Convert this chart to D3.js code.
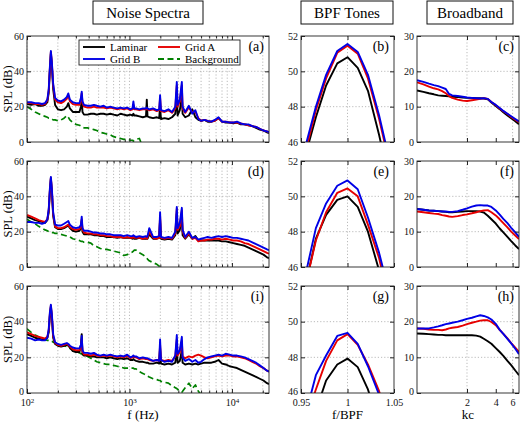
<!DOCTYPE html>
<html>
<head>
<meta charset="utf-8">
<script src="https://cdn.jsdelivr.net/npm/d3@7"></script>
<style>
body { margin: 0; background: #fff; }
svg { font-family: "Liberation Serif", "DejaVu Serif", serif; }
</style>
</head>
<body>
<svg id="chart" width="520" height="422"></svg>
<script>
// ---- spectra (Hz, dB) ----
var freq = [100,110,120,130,140,150,158,163,167,171,
  175,180,188,200,215,230,245,253,262,280,
  300,325,336,342,348,360,390,420,450,480,
  520,560,600,650,700,760,820,880,950,1020,
  1070,1092,1115,1160,1250,1350,1450,1476,1500,1560,
  1700,1850,1950,1990,2030,2200,2400,2600,2800,2897,
  2950,3100,3245,3300,3500,3800,4100,4400,4700,5000,
  5400,5800,6300,6800,7400,8000,8700,9500,10300,11200,
  12200,13300,14500,15800,17200,18700,20300,22000,23000];

var a_laminar = [21.5,21,21.5,20.5,20.5,21,22.5,28,40,50,
  43,30,21,18.5,18,18.5,20,22,19,17,
  17,17,20,24,17,15.5,15.5,16,16,15.5,
  16,16,15.5,16,15.5,15,16,15.5,15,15.5,
  15,16,15,15,14.5,14,14.5,24,14.5,14,
  13.5,14,13.5,20,13,13.5,13,14,16,28,
  15,18,26,16,14,15,18.5,14,12.5,12,
  12.5,11.5,11.5,12,13.5,11.5,11,11,10.5,11,
  10,10,9.5,9,8,7,6.5,5.5,5];
var a_gridA = [22,22,21.5,21.5,21,21.5,23.5,29,41,51,
  44,32,24,22.5,22,23,24.5,26.5,23,21.5,
  21,21,24,27.5,22,20,19.5,19.5,20,19.5,
  19.5,19.5,19,19.5,19,18.5,19,18.5,19,18,
  18.5,21,18.5,18.5,18,18.5,18.5,19,18.5,18,
  18.5,17.5,18,25,17.5,17,18,16.5,19,32,
  20,23,32,19,16.5,19.5,17,17,13.5,12,
  12.5,12,11.5,12,13.5,11.5,11.5,11,11,11,
  10.5,10,9.5,9,8.5,7.5,6.5,6,5.5];
var a_gridB = [22.5,22.5,22,22,21.5,22,24,30,42,51.5,
  45,33,25,23.5,23,24,25.5,27.5,24,22.5,
  22,22,25,28.5,23,21,20.5,20.5,21,20.5,
  20,20.5,19.5,20,19.5,19,19.5,19,19.5,18.5,
  19,23,19,19,18.5,19,19,19.5,19,18.5,
  19,18,18.5,26.5,18,17.5,18.5,17,20,34,
  21,24,34,20,17,20.5,16,18,13,12,
  12.5,12,11.5,12.5,14,11.5,11.5,11,11,11.5,
  10.5,10,10,9,8.5,7.5,6.5,6,5.5];
var a_background = [20,18.5,17,16,15,14.5,14,13.5,13.5,13,
  13,12.5,12.5,12,12.5,13.5,15,14,12.5,11,
  10,9.5,9,9,8.5,8,8,7.5,7,6.5,
  5.5,5,4.5,4,3,2.5,2,1.5,1.5,1,
  1,0.5,1,1.5,2,-3];

var d_laminar = [28.5,27.5,26.5,26,25.5,25,26.5,31,42,50,
  42,29,22.5,21.5,21.5,22,23,23.5,22,20.5,
  20,20.5,22,26,20,18.5,18.5,18.5,18,18,
  17.5,17.5,17,17,17,16.5,17,16.5,16.5,16.5,
  16,16.5,16,16,16.5,16,16,16,16,18.5,
  16,16,16.5,27,16,15.5,16,15.5,18,30,
  19,21,29,18,16,18.5,16,17.5,15,15,
  15,15,15,15,15,14.5,14.5,14,13.5,13,
  12.5,12,11,10,9,8,7,5.5,5];
var d_gridA = [29.5,28.5,27.5,26.5,26,25.5,27,32,43,50.5,
  43,30,23,22,22,22.5,23.5,24,22.5,21.5,
  21,21.5,23,27,21,19.5,19,19,18.5,18.5,
  18,18,17.5,17.5,17,17,17,16.5,17,16.5,
  16.5,17,16.5,16.5,16.5,16,16.5,16,16.5,20,
  16.5,16,16.5,29,16.5,16,16.5,16,19,33,
  21,23,32,20,16.5,19,16,16.5,14.5,15,
  15,15.5,15.5,16,16,15.5,16,15.5,15,15,
  14.5,13.5,13,12,11,10,9,8,7.5];
var d_gridB = [25.5,25.5,25,25,24.5,25,27,33,44,51,
  44,31,24,23.5,23.5,24.5,25.5,26,24,22.5,
  22,22.5,24,28.5,22,20.5,20.5,20,19.5,19.5,
  19,19,18.5,18.5,18,18,18,17.5,18,17.5,
  17.5,18,17.5,17,17.5,17,17.5,17,17.5,22,
  17,17,17.5,31,17,16.5,17,16.5,20,34,
  22,25,33.5,21,17,20,16.5,17,15.5,16,
  16.5,17,16.5,17,17.5,17,17.5,17,16.5,16.5,
  16,15.5,15,14,13,12,11,10,9.5];
var d_background = [27,25.5,24.5,23,22,21,20.5,20,20,19.5,
  19.5,19.5,19,19,18.5,18,17.5,17.5,17,16,
  15.5,15,14.5,14.5,14.5,14,14,13.5,12,11.5,
  10.5,10,10,9.5,9,8.5,8,6.5,7,8,
  8.5,9,9.5,9.5,8,7,5.5,5,4.5,3.5,
  2.5,1.5,0.5,0,-3];

var i_laminar = [33,32,31,30.5,30,30,31,34,43,48,
  42,31,27.5,26.5,26,26.5,27,26.5,25.5,23.5,
  23,23,27,33,22,21,21,20.5,20.5,20,
  20,20,19.5,20,19.5,19,19.5,19,19.5,18.5,
  18.5,19,18.5,18,17.5,17.5,17,17,17,16.5,
  16.5,17,16.5,25,16.5,16,16.5,16,17,25,
  17,18,24,17,16,16.5,16,16.5,16,16.5,
  17,17,17,17.5,18.5,16.5,16,15,14.5,14,
  13,12,11,10,9,8,7,5.5,5];
var i_gridA = [34,33,32,31.5,31,30.5,31.5,35,44,49,
  43,32,28,27,26.5,27,27.5,27,26,24.5,
  24,24,25.5,30,23,21.5,21.5,21,21.5,21,
  20.5,21,20.5,21,20.5,20,20.5,20,21,19.5,
  20,20.5,20,20,19,19.5,19,19,19,18.5,
  18,18.5,18,27,18.5,18,18.5,18,20.5,30,
  21,23,29,20.5,19.5,20.5,20,21,21.5,21,
  20,19.5,20,20.5,21,20.5,21,21,20.5,20.5,
  20,19.5,18.5,17.5,16.5,15,14,12.5,12];
var i_gridB = [31,30.5,29.5,30,29.5,29.5,31,36,45,49.5,
  44,33,28.5,27.5,27,27.5,28,27.5,26.5,25.5,
  25,25,27,32,24,22.5,22.5,22,22.5,21.5,
  21,21.5,21,21.5,21,20.5,21,20.5,21.5,20,
  20.5,21,20.5,20.5,19.5,20,19.5,19.5,19.5,19,
  18,18.5,18,30,18.5,17.5,18,17.5,21,32.5,
  22,24,31.5,20,18,19,17.5,18.5,17,17.5,
  19,20,20.5,21,21.5,21,22,21.5,21,21,
  20.5,20,19,18,17,15.5,14,12.5,12];
var i_background = [36,34,32.5,31.5,30.5,30,29.5,29.5,29,29,
  29,28.5,28,27.5,27,26.5,26,25.5,25,24.5,
  23.5,22.5,22,22,21.5,21.5,20.5,19.5,18.5,17.5,
  17,16.5,16,16,15.5,15,14.5,14,14,14,
  14,14,13.5,13.5,12,11,10,10,9.5,9,
  8,7.5,7,7,6.5,6,5.5,4,3,2.5,
  2,1,0.5,1,3,5.5,2.5,4.5,1,-1];

// ---- BPF tones (f/BPF, dB) ----
var bpf = [0.944,0.955,0.966,0.977,0.989,1.0,1.011,1.022,1.034,1.045,1.056];
var b_laminar = [43.0,45.3,47.4,49.2,50.45,50.8,50.2,48.9,46.4,43.8,41];
var b_gridA = [43.2,45.5,47.8,49.6,51.05,51.45,51.0,49.6,47.3,44.8,42];
var b_gridB = [43.5,45.8,48.0,49.8,51.15,51.55,51.1,49.8,47.5,45.0,42.2];
var e_laminar = [42.5,45.0,47.6,48.95,49.8,50.0,49.4,48.0,45.8,43.5,41];
var e_gridA = [42.5,45.0,47.5,49.1,50.2,50.45,50.0,48.4,46.5,44.0,41.5];
var e_gridB = [43.5,45.6,48.2,49.6,50.6,50.9,50.4,48.8,46.8,44.5,42];
var g_laminar = [40,42.5,45.0,46.7,47.6,47.93,47.45,46.2,44.2,42,40];
var g_gridA = [42,44.5,46.2,47.8,48.95,49.3,48.7,47.6,46.1,44.0,42];
var g_gridB = [42.5,44.8,47.0,48.1,49.2,49.37,48.75,47.5,45.9,43.8,41.5];

// ---- broadband (kc, dB) ----
var kc = [0.6,0.7,0.8,0.9,1.0,1.1,1.2,1.3,1.4,1.6,1.8,2.0,2.25,2.5,2.75,3.0,3.3,3.6,4.0,4.4,4.8,5.3,5.8,6.4,7.0];
var c_laminar = [14.6,14.2,13.8,13.5,13.2,13.1,13.0,12.9,12.8,12.7,12.6,12.5,12.5,12.4,12.4,12.3,12.1,11.2,10.2,9.3,8.4,7.5,6.7,5.9,5.0];
var c_gridA = [16.9,16.3,15.7,15.2,14.9,14.4,13.8,13.0,12.5,12.0,11.7,11.6,11.8,12.0,12.2,12.4,12.2,11.3,10.4,9.5,8.7,7.9,7.1,6.3,5.6];
var c_gridB = [17.5,17.0,16.5,16.1,15.8,15.4,15.0,13.6,13.2,13.0,12.8,12.6,12.5,12.4,12.3,12.4,12.2,11.3,10.5,9.6,8.8,8.0,7.3,6.5,5.8];
var f_laminar = [16.4,16.2,16.0,15.9,15.8,15.7,15.6,15.5,15.5,15.6,15.7,15.8,15.8,15.8,15.7,15.4,14.5,13.5,12.3,10.9,9.8,8.5,7.3,6.1,5.1];
var f_gridA = [15.7,15.5,15.3,15.1,15.0,14.7,14.5,14.3,14.2,14.4,14.7,14.9,15.2,15.5,15.8,16.0,16.1,15.5,14.6,13.5,12.4,11.2,10.0,8.9,7.9];
var f_gridB = [16.4,16.2,16.0,15.9,15.8,15.7,15.7,15.6,15.6,15.8,16.2,16.6,17.1,17.4,17.5,17.4,17.4,17.0,16.0,14.8,13.6,12.4,11.1,9.8,8.5];
var h_laminar = [16.7,16.6,16.5,16.4,16.3,16.3,16.2,16.2,16.2,16.2,16.2,16.2,16.2,16.1,15.8,15.2,14.5,13.8,12.6,11.5,10.4,9.0,7.8,6.3,5.0];
var h_gridA = [18.1,18.0,17.8,17.7,17.7,17.6,17.8,18.1,18.3,18.5,18.9,19.3,19.7,20.0,20.3,20.4,20.4,19.9,19.0,17.7,16.6,15.3,14.0,12.7,11.5];
var h_gridB = [18.1,18.1,18.1,18.4,18.7,19.0,19.3,19.5,19.7,20.0,20.4,20.8,21.1,21.5,21.8,21.6,21.2,20.6,19.4,17.7,16.6,15.2,13.9,12.4,10.9];

// ---- legend / tick labels ----
var seriesNames = ['Background', 'Laminar', 'Grid A', 'Grid B'];
var seriesColors = ['#008000', '#000000', '#e60000', '#0000e6'];
var specTicks = [0, 20, 40, 60];
var bpfYTicks = [46, 48, 50, 52];
var bpfXTicks = [0.95, 1, 1.05];
var kcYTicks = [0, 10, 20, 30];
var kcXTicks = [2, 4, 6];

var svg = d3.select('#chart');

// layout
var rows = [[36, 142], [161, 267], [286, 393]];
var xSpec = d3.scaleLog().domain([100, 23000]).range([27, 269]);
var xBpf = d3.scaleLinear().domain([0.95, 1.05]).range([301, 394]);
var xKc = d3.scaleLog().domain([0.6, 7]).range([417, 519]);

var specMinor = [];
[100, 1000, 10000].forEach(function(dec) {
  for (var k = 2; k <= 9; k++) if (dec * k < 23000) specMinor.push(dec * k);
});

var clipId = 0;

function panel(opt) {
  var x = opt.x, y = opt.y;
  var xl = x.range()[0], xr = x.range()[1];
  var yb = y.range()[0], yt = y.range()[1];
  var g = svg.append('g');

  // dotted grid
  g.selectAll('.vg').data(opt.xGrid).enter().append('line')
    .attr('x1', d => x(d)).attr('x2', d => x(d))
    .attr('y1', yt).attr('y2', yb)
    .attr('stroke', '#aaa').attr('stroke-width', 0.8)
    .attr('stroke-dasharray', '1.2,2');
  g.selectAll('.hg').data(opt.yGrid).enter().append('line')
    .attr('x1', xl).attr('x2', xr)
    .attr('y1', d => y(d)).attr('y2', d => y(d))
    .attr('stroke', '#aaa').attr('stroke-width', 0.8)
    .attr('stroke-dasharray', '1.2,2');

  // curves
  clipId++;
  svg.append('clipPath').attr('id', 'clip' + clipId)
    .append('rect').attr('x', xl).attr('y', yt)
    .attr('width', xr - xl).attr('height', yb - yt);
  var line = d3.line()
    .defined(d => d[1] != null)
    .x(d => x(d[0])).y(d => y(d[1]));
  var cg = g.append('g').attr('clip-path', 'url(#clip' + clipId + ')');
  opt.series.forEach(function(s, i) {
    if (!s) return;
    var pts = opt.xs.map((v, j) => [v, j < s.length ? s[j] : null]);
    cg.append('path').datum(pts)
      .attr('d', line)
      .attr('fill', 'none')
      .attr('stroke', seriesColors[i])
      .attr('stroke-width', i === 0 ? 1.7 : 1.9)
      .attr('stroke-linejoin', 'round')
      .attr('stroke-dasharray', i === 0 ? '6,3.5' : null);
  });

  // frame
  g.append('rect').attr('x', xl).attr('y', yt)
    .attr('width', xr - xl).attr('height', yb - yt)
    .attr('fill', 'none').attr('stroke', '#222').attr('stroke-width', 0.9);

  // axes (ticks inward)
  function style(a) {
    a.select('.domain').remove();
    a.attr('font-family', null).attr('font-size', null);
    a.selectAll('line').attr('stroke', '#222');
    a.selectAll('text').style('font-size', '10px').attr('fill', '#111');
  }
  var ly = g.append('g').attr('transform', 'translate(' + xl + ',0)')
    .call(d3.axisLeft(y).tickValues(opt.yTicks).tickSize(-4).tickPadding(3).tickFormat(d3.format('d')))
    .call(style);
  // lowest label sits a touch higher, clear of the x labels
  if (opt.showX) ly.selectAll('.tick text').filter(d => d === opt.yTicks[0]).attr('dy', '0.1em');
  g.append('g').attr('transform', 'translate(' + xr + ',0)')
    .call(d3.axisRight(y).tickValues(opt.yTicks).tickSize(-4).tickFormat(''))
    .call(style);
  var bottom = d3.axisBottom(x).tickValues(opt.xTicks).tickSize(-4).tickPadding(6);
  bottom.tickFormat(opt.showX ? opt.xFormat : '');
  var bx = g.append('g').attr('transform', 'translate(0,' + yb + ')').call(bottom).call(style);
  if (opt.showX && opt.pow) {
    bx.selectAll('.tick text').each(function(d) {
      var t = d3.select(this);
      t.text('10');
      t.append('tspan').attr('dy', '-0.4em').style('font-size', '7px')
        .text(Math.round(Math.log10(d)));
    });
  }
  g.append('g').attr('transform', 'translate(0,' + yt + ')')
    .call(d3.axisTop(x).tickValues(opt.xTicks).tickSize(-4).tickFormat(''))
    .call(style);
  if (opt.minor) {
    g.append('g').attr('transform', 'translate(0,' + yb + ')')
      .call(d3.axisBottom(x).tickValues(opt.minor).tickSize(-2.5).tickFormat('')).call(style);
    g.append('g').attr('transform', 'translate(0,' + yt + ')')
      .call(d3.axisTop(x).tickValues(opt.minor).tickSize(-2.5).tickFormat('')).call(style);
  }

  // panel letter
  g.append('text').attr('x', xr - 5).attr('y', yt + 15)
    .attr('text-anchor', 'end').style('font-size', '14px')
    .text(opt.letter);
  return g;
}

var specData = [
  [a_background, a_laminar, a_gridA, a_gridB],
  [d_background, d_laminar, d_gridA, d_gridB],
  [i_background, i_laminar, i_gridA, i_gridB]];
var bpfData = [
  [null, b_laminar, b_gridA, b_gridB],
  [null, e_laminar, e_gridA, e_gridB],
  [null, g_laminar, g_gridA, g_gridB]];
var kcData = [
  [null, c_laminar, c_gridA, c_gridB],
  [null, f_laminar, f_gridA, f_gridB],
  [null, h_laminar, h_gridA, h_gridB]];
var letters = [['(a)', '(b)', '(c)'], ['(d)', '(e)', '(f)'], ['(i)', '(g)', '(h)']];

rows.forEach(function(r, ri) {
  var last = ri === rows.length - 1;
  panel({
    x: xSpec, y: d3.scaleLinear().domain([0, 60]).range([r[1], r[0]]),
    xs: freq, series: specData[ri],
    xTicks: [100, 1000, 10000], minor: specMinor, pow: true,
    xGrid: [100, 1000, 10000].concat(specMinor), yGrid: [20, 40],
    yTicks: specTicks, showX: last, xFormat: d => d,
    letter: letters[ri][0]
  });
  panel({
    x: xBpf, y: d3.scaleLinear().domain([46, 52]).range([r[1], r[0]]),
    xs: bpf, series: bpfData[ri],
    xTicks: bpfXTicks, xGrid: [1], yGrid: [48, 50],
    yTicks: bpfYTicks, showX: last, xFormat: d => d,
    letter: letters[ri][1]
  });
  panel({
    x: xKc, y: d3.scaleLinear().domain([0, 30]).range([r[1], r[0]]),
    xs: kc, series: kcData[ri],
    xTicks: kcXTicks, xGrid: [2, 6], yGrid: [10, 20],
    yTicks: kcYTicks, showX: last, xFormat: d => d,
    letter: letters[ri][2]
  });
  svg.append('text')
    .attr('transform', 'translate(12,' + (r[0] + r[1]) / 2 + ') rotate(-90)')
    .attr('text-anchor', 'middle').style('font-size', '12.5px')
    .text('SPL (dB)');
});

// axis labels
svg.append('text').attr('x', 143).attr('y', 419)
  .attr('text-anchor', 'middle').style('font-size', '13px').text('f (Hz)');
svg.append('text').attr('x', xBpf(1)).attr('y', 419)
  .attr('text-anchor', 'middle').style('font-size', '13px').text('f/BPF');
svg.append('text').attr('x', 468).attr('y', 419)
  .attr('text-anchor', 'middle').style('font-size', '13px').text('kc');

// column titles
[['Noise Spectra', 93, 203], ['BPF Tones', 301, 393], ['Broadband', 427, 513]].forEach(function(t) {
  svg.append('rect').attr('x', t[1]).attr('y', 1).attr('width', t[2] - t[1]).attr('height', 23)
    .attr('fill', '#fff').attr('stroke', '#111').attr('stroke-width', 1);
  svg.append('text').attr('x', (t[1] + t[2]) / 2).attr('y', 17.5)
    .attr('text-anchor', 'middle').style('font-size', '15px').text(t[0]);
});

// legend in panel (a)
var lg = svg.append('g');
lg.append('rect').attr('x', 79).attr('y', 40).attr('width', 161).attr('height', 25)
  .attr('fill', '#fff').attr('stroke', '#222').attr('stroke-width', 0.9);
var legendItems = [[1, 83, 47], [2, 158, 47], [3, 83, 59], [0, 158, 59]];
legendItems.forEach(function(it) {
  var i = it[0];
  lg.append('line').attr('x1', it[1]).attr('x2', it[1] + 22)
    .attr('y1', it[2]).attr('y2', it[2])
    .attr('stroke', seriesColors[i]).attr('stroke-width', 1.9)
    .attr('stroke-dasharray', i === 0 ? '6,3.5' : null);
  lg.append('text').attr('x', it[1] + 27).attr('y', it[2] + 3.8)
    .style('font-size', '11px').text(seriesNames[i]);
});
</script>
</body>
</html>
